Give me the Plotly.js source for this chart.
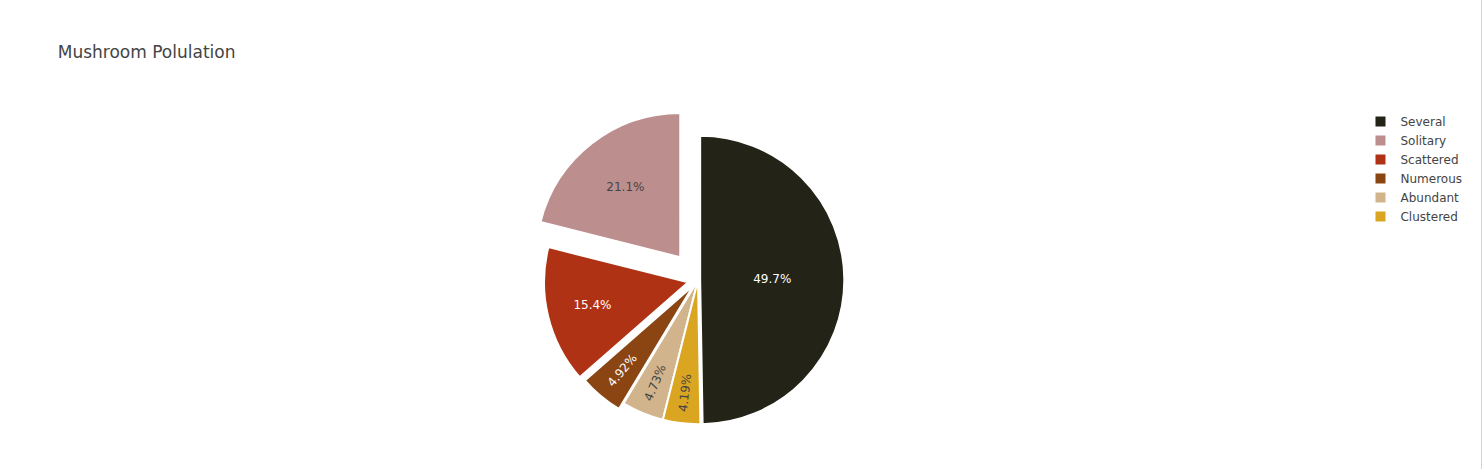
<!DOCTYPE html>
<html>
<head>
<meta charset="utf-8">
<script src="https://cdn.plot.ly/plotly-3.0.1.min.js"></script>
<style>
  body { margin: 0; background: #fff; }
  #pop_plot { width: 1481px; height: 469px; border-right: 1px solid #d4d4d4; }
</style>
</head>
<body>
<div id="pop_plot"></div>
<script>
// mushroom counts by population type
var labels = ['Several', 'Solitary', 'Scattered', 'Numerous', 'Abundant', 'Clustered'];
var counts = [4040, 1712, 1248, 400, 384, 340];
var colors = ['#232317', '#bc8e8e', '#b03214', '#8b4513', '#d2b48c', '#daa520'];
var pulls = [0.015, 0.2, 0.07, 0.05, 0, 0];

var trace = {
	labels: labels,
	values: counts,
	type: 'pie',
	pull: pulls,
	marker: {colors: colors, line: {color: '#ffffff', width: 2}}
};

var layout = {
	title: {text: 'Mushroom Polulation', font: {size: 17}, x: 0.039, xanchor: 'left', y: 0.89, yanchor: 'middle'},
	font: {family: 'DejaVu Sans, Verdana, sans-serif'},
	width: 1481,
	height: 469,
	margin: {l: 80, r: 165, t: 107, b: 16},
	legend: {x: 1.036, y: 1}
};

Plotly.newPlot('pop_plot', [trace], layout, {displayModeBar: false});
</script>
</body>
</html>
